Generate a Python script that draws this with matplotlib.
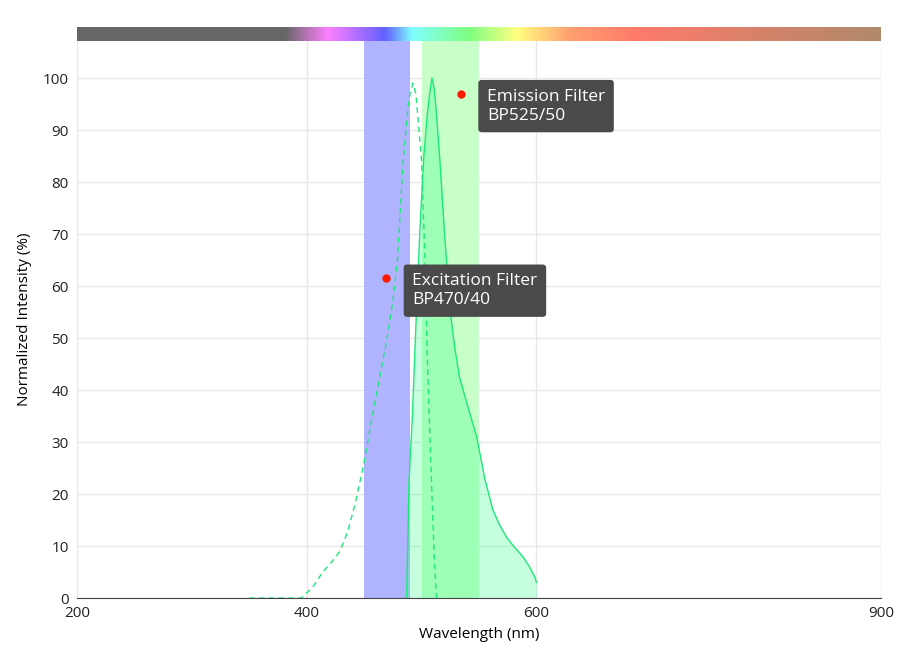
import matplotlib
matplotlib.use("Agg")
import matplotlib.pyplot as plt
import numpy as np
from matplotlib.colors import LinearSegmentedColormap

plt.rcParams['font.family'] = ['Open Sans', 'DejaVu Sans']

ex_wl = [350, 395, 400, 405, 414, 422, 429, 436, 442, 449, 458, 464, 470, 475, 479, 484, 488, 490, 492.5, 495, 497, 500, 503, 505, 507, 509, 511, 513]
ex_val = [0, 0, 1, 2, 5, 7, 9, 13, 18, 25, 36, 43, 50, 57, 65, 84, 94, 97, 99, 97, 92, 84, 65, 46, 33, 20, 8, 0]
em_wl = [487, 489, 492, 495, 498.6, 502, 505, 507, 509, 511, 513, 516, 520, 525, 529, 533, 540, 548, 555, 562, 568, 574, 580, 588, 594, 598.7, 600]
em_val = [0, 22, 35, 52, 71, 85, 93, 97, 100, 98, 93, 84, 70, 55, 48, 42.5, 37, 31, 23, 17, 14, 11.7, 10, 8, 6, 4, 3]
filters = [("Excitation Filter\nBP470/40", 450, 490, "#b0b4ff", 469, 61.5),
           ("Emission Filter\nBP525/50", 500, 550, "#c8ffc8", 534, 97)]
spec_nm = [200, 380, 418, 468, 492, 542, 583, 629, 688, 900]
spec_col = ["#666666", "#666666", "#ff80ff", "#6060ff", "#80ffff", "#80ff80", "#ffff80", "#ffa070", "#ff7a6a", "#b08a6a"]
xticks = [200, 400, 600, 900]
yticks = list(range(0, 101, 10))

fig = plt.figure(figsize=(9, 6.5), dpi=100)
ax = fig.add_axes([77/900, 1-598/650, 804/900, (598-41)/650])
ax.set_xlim(200, 900)
ax.set_ylim(0, (598-41)/5.2)

for label, lo, hi, col, px, py in filters:
    ax.axvspan(lo, hi, color=col, lw=0, zorder=1)
ax.fill_between(em_wl, em_val, color="#33ff88", alpha=0.28, lw=0, zorder=2)
ax.plot(em_wl, em_val, color="#1de87a", lw=1, zorder=3)
ax.plot(ex_wl, ex_val, color="#1de87a", lw=1, ls=(0, (4, 3)), zorder=3)

for label, lo, hi, col, px, py in filters:
    ax.plot(px, py, 'o', color="#ff1a00", ms=5, zorder=5)
    ax.annotate(label, (px, py), xytext=(19, -9), textcoords='offset points',
                va='center', ha='left', color='white', fontsize=12.5, zorder=6,
                bbox=dict(boxstyle='round,pad=0.5,rounding_size=0.2', fc='#4a4a4a', ec='none'),
                linespacing=1.25)

ax.set_xticks(xticks)
ax.set_yticks(yticks)
ax.grid(color="#e8e8e8", lw=1, zorder=0)
ax.set_axisbelow(True)
for s in ['top', 'right', 'left']:
    ax.spines[s].set_visible(False)
ax.spines['bottom'].set_color('#444444')
ax.tick_params(length=0, labelsize=11, colors='#222222', pad=6)
ax.set_xlabel("Wavelength (nm)", fontsize=11, labelpad=4)
ax.set_ylabel("Normalized Intensity (%)", fontsize=11, labelpad=8)

bar = fig.add_axes([77/900, 1-41/650, 804/900, 14/650])
pos = [(n - 200) / 700 for n in spec_nm]
cmap = LinearSegmentedColormap.from_list("spec", list(zip(pos, spec_col)))
bar.imshow(np.linspace(0, 1, 800)[None, :], aspect='auto', cmap=cmap, extent=(200, 900, 0, 1))
bar.set_axis_off()

fig.savefig("out.png", dpi=100)
